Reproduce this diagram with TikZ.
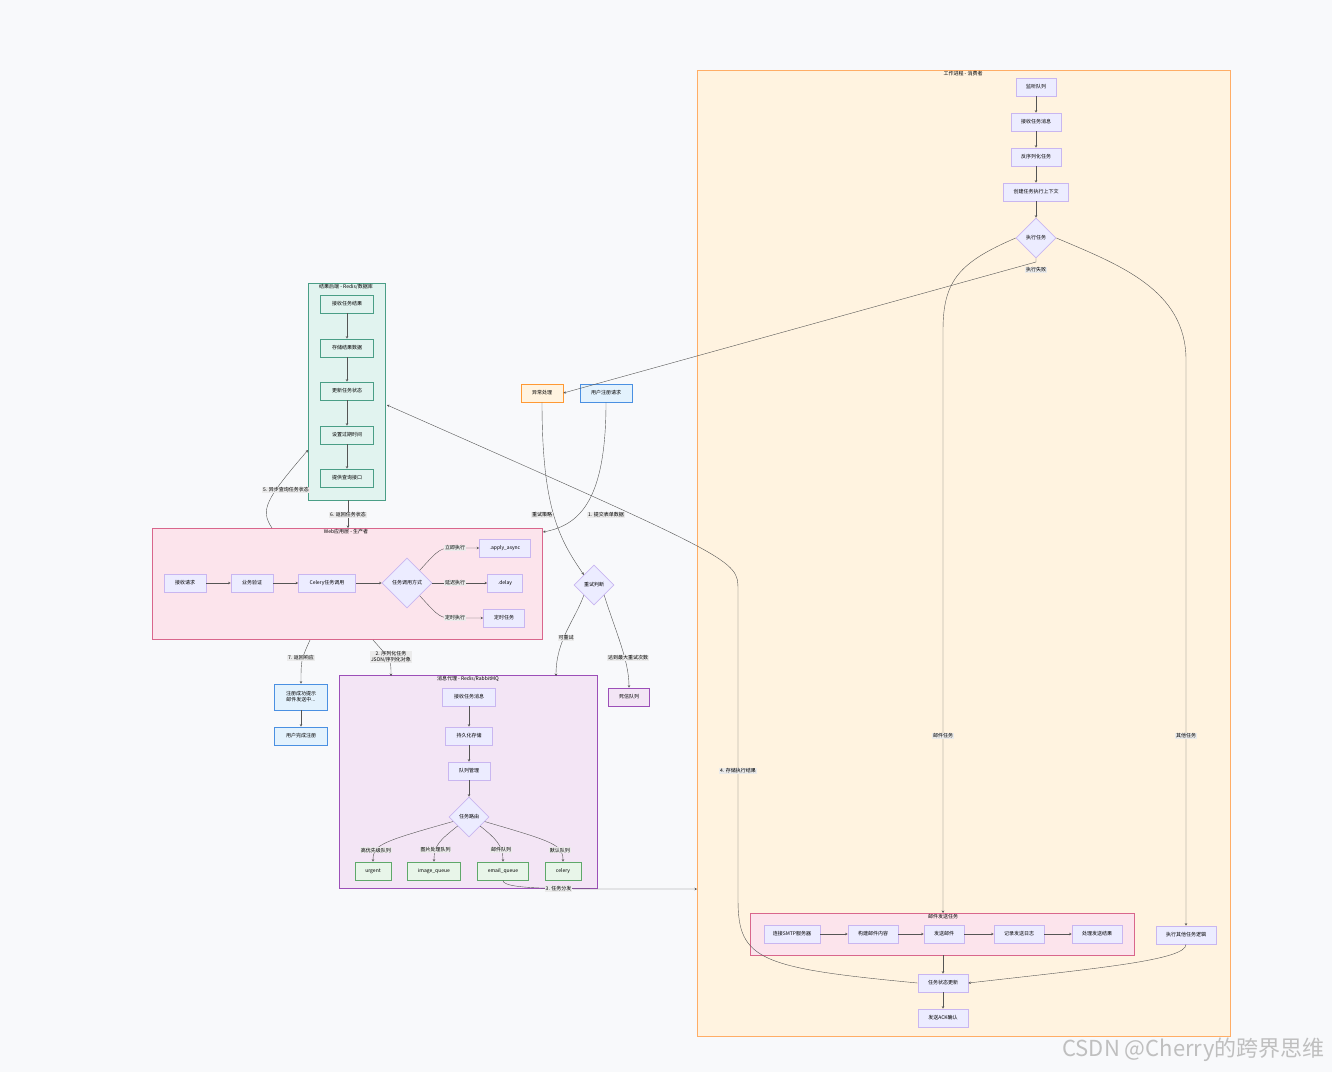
\documentclass[tikz,border=0pt]{standalone}
\usepackage{fontspec}
\setmainfont{Noto Sans CJK SC}
\usetikzlibrary{shapes.geometric,arrows.meta}
\definecolor{bg}{HTML}{F8F9FB}
\definecolor{nf}{HTML}{ECECFF}\definecolor{nd}{HTML}{C9B6F0}
\definecolor{rf}{HTML}{E1F3EF}\definecolor{rd}{HTML}{4A9E86}
\definecolor{wf}{HTML}{FCE4EC}\definecolor{wd}{HTML}{D9668C}
\definecolor{bf}{HTML}{F3E5F5}\definecolor{bd}{HTML}{9C4FB8}
\definecolor{kf}{HTML}{FFF3E0}\definecolor{kd}{HTML}{FFAD66}
\definecolor{uf}{HTML}{E3F2FD}\definecolor{ud}{HTML}{4A90E2}
\definecolor{gf}{HTML}{E8F5E9}\definecolor{gd}{HTML}{5FA86A}
\definecolor{ln}{HTML}{555555}
\begin{document}
\begin{tikzpicture}[x=1pt,y=-1pt,font=\fontsize{5}{6}\selectfont,
 n/.style={draw=nd,fill=nf,line width=0.7pt,minimum height=18pt,inner sep=1pt,align=center},
 rn/.style={n,draw=rd,fill=rf},
 un/.style={n,draw=ud,fill=uf},
 gn/.style={n,draw=gd,fill=gf},
 dm/.style={diamond,draw=nd,fill=nf,line width=0.7pt,inner sep=0pt,aspect=1},
 grp/.style={line width=0.8pt},
 e/.style={draw=ln,line width=0.4pt,-{Stealth[length=2.5pt,width=2.5pt]}},
 lb/.style={fill=black!8,inner sep=0.8pt,align=center}]
\useasboundingbox (0,0) rectangle (1332,1072);
\fill[bg] (0,0) rectangle (1332,1072);
% groups
\draw[grp,draw=kd,fill=kf] (697,70) rectangle (1230,1036);
\node at (963,74) {工作进程 - 消费者};
\draw[grp,draw=rd,fill=rf] (308,283) rectangle (385,500);
\node at (346,287) {结果后端 - Redis/数据库};
\draw[grp,draw=wd,fill=wf] (152,528) rectangle (542,639);
\node at (346,532) {Web应用层 - 生产者};
\draw[grp,draw=bd,fill=bf] (339,675) rectangle (597,888);
\node at (468,679) {消息代理 - Redis/RabbitMQ};
\draw[grp,draw=wd,fill=wf] (750,913) rectangle (1134,955);
\node at (943,917) {邮件发送任务};
\coordinate (mailtop) at (943,913);
\coordinate (mailbot) at (943,955);
\coordinate (webtop) at (348,528);
\coordinate (webtl) at (272,528);
\coordinate (webr) at (543,532);
\coordinate (webbl) at (310,640);
\coordinate (webbm) at (373,640);
\coordinate (rbl) at (308,450);
\coordinate (rbot) at (348,500);
\coordinate (rright) at (387,405);
\coordinate (brtop) at (391,676);
\coordinate (brtr) at (556,676);
\coordinate (wkl) at (697,889);
% result backend
\node[rn,minimum width=53pt] (r1) at (347,304) {接收任务结果};
\node[rn,minimum width=53pt] (r2) at (347,348) {存储结果数据};
\node[rn,minimum width=53pt] (r3) at (347,391) {更新任务状态};
\node[rn,minimum width=53pt] (r4) at (347,435) {设置过期时间};
\node[rn,minimum width=53pt] (r5) at (347,478) {提供查询接口};
\foreach \a/\b in {r1/r2,r2/r3,r3/r4,r4/r5} \draw[e] (\a)--(\b);
% web
\node[n,minimum width=42pt] (w1) at (185,583) {接收请求};
\node[n,minimum width=42pt] (w2) at (252,583) {业务验证};
\node[n,minimum width=57pt] (w3) at (327,583) {Celery任务调用};
\node[dm,minimum size=50pt] (w4) at (407,583) {任务调用方式};
\node[n,minimum width=51pt] (w5) at (505,548) {.apply\_async};
\node[n,minimum width=35pt] (w6) at (505,583) {.delay};
\node[n,minimum width=41pt] (w7) at (504,618) {定时任务};
\draw[e] (w1)--(w2); \draw[e] (w2)--(w3); \draw[e] (w3)--(w4);
\draw[e] (w4.north east) .. controls (440,548) .. (455,548) -- (w5.west);
\draw[e] (w4.east) -- (w6.west);
\draw[e] (w4.south east) .. controls (440,618) .. (455,618) -- (w7.west);
\node[lb] at (455,548) {立即执行};
\node[lb] at (455,583) {延迟执行};
\node[lb] at (455,618) {定时执行};
% misc
\node[n,draw=orange!80,fill=kf,line width=0.8pt,minimum width=42pt] (ex) at (542,393) {异常处理};
\node[un,minimum width=52pt] (ur) at (606,393) {用户注册请求};
\node[dm,minimum size=40pt] (rt) at (594,585) {重试判断};
\node[n,draw=bd,fill=bf,minimum width=41pt] (dl) at (629,697) {死信队列};
\node[un,minimum width=53pt,minimum height=26pt] (ok) at (301,697) {注册成功提示\\邮件发送中...};
\node[un,minimum width=53pt] (done) at (301,736) {用户完成注册};
% broker
\node[n,minimum width=53pt] (b1) at (469,697) {接收任务消息};
\node[n,minimum width=47pt] (b2) at (469,736) {持久化存储};
\node[n,minimum width=42pt] (b3) at (469,771) {队列管理};
\node[dm,minimum size=40pt] (b4) at (469,817) {任务路由};
\node[gn,minimum width=36pt] (q1) at (373,871) {urgent};
\node[gn,minimum width=53pt] (q2) at (434,871) {image\_queue};
\node[gn,minimum width=51pt] (q3) at (503,871) {email\_queue};
\node[gn,minimum width=36pt] (q4) at (563,871) {celery};
\draw[e] (b1)--(b2); \draw[e] (b2)--(b3); \draw[e] (b3)--(b4);
\draw[e] (b4) .. controls (380,842) and (373,845) .. (q1) node[pos=0.72,lb]{高优先级队列};
\draw[e] (b4) .. controls (440,840) and (434,845) .. (q2) node[pos=0.72,lb]{图片处理队列};
\draw[e] (b4) .. controls (495,838) and (503,845) .. (q3) node[pos=0.72,lb]{邮件队列};
\draw[e] (b4) .. controls (555,842) and (563,845) .. (q4) node[pos=0.72,lb]{默认队列};
% worker
\node[n,minimum width=40pt] (k1) at (1036,87) {监听队列};
\node[n,minimum width=50pt] (k2) at (1036,122) {接收任务消息};
\node[n,minimum width=50pt] (k3) at (1036,157) {反序列化任务};
\node[n,minimum width=65pt] (k4) at (1036,192) {创建任务执行上下文};
\node[dm,minimum size=40pt] (k5) at (1036,238) {执行任务};
\draw[e] (k1)--(k2); \draw[e] (k2)--(k3); \draw[e] (k3)--(k4); \draw[e] (k4)--(k5);
\node[n,minimum width=56pt] (m1) at (792,934) {连接SMTP服务器};
\node[n,minimum width=50pt] (m2) at (873,934) {构建邮件内容};
\node[n,minimum width=40pt] (m3) at (944,934) {发送邮件};
\node[n,minimum width=50pt] (m4) at (1019,934) {记录发送日志};
\node[n,minimum width=50pt] (m5) at (1097,934) {处理发送结果};
\foreach \a/\b in {m1/m2,m2/m3,m3/m4,m4/m5} \draw[e] (\a)--(\b);
\node[n,minimum width=60pt] (ot) at (1186,935) {执行其他任务逻辑};
\node[n,minimum width=50pt] (su) at (943,983) {任务状态更新};
\node[n,minimum width=50pt] (ack) at (943,1018) {发送ACK确认};
\draw[e] (su)--(ack);
\draw[e] (mailbot)--(su);
\draw[e] (ot.south) .. controls (1186,960) and (1100,968) .. (su.east);
\draw[e] (k5.west) .. controls (960,262) and (943,280) .. (943,330) -- (mailtop);
\node[lb] at (943,736) {邮件任务};
\draw[e] (k5.east) .. controls (1120,265) and (1186,290) .. (1186,360) -- (ot.north);
\node[lb] at (1186,736) {其他任务};
\draw[e] (k5.south) -- (1036,262) -- (ex.east);
\node[lb] at (1036,270) {执行失败};
\draw[e] (su.west) .. controls (760,968) and (738,960) .. (738,900) -- (738,590) .. controls (738,560) .. (rright);
\node[lb] at (738,771) {4. 存储执行结果};
\draw[e] (q3.south) .. controls (503,890) and (560,889) .. (wkl) node[pos=0.55,lb]{3. 任务分发};
% cross edges
\draw[e] (ur.south) .. controls (606,500) and (580,525) .. (webr);
\node[lb] at (606,515) {1. 提交表单数据};
\draw[e] (ex.south) .. controls (542,510) and (560,540) .. (rt.north west);
\node[lb] at (542,515) {重试策略};
\draw[e] (rt.south west) .. controls (575,620) and (556,640) .. (brtr);
\node[lb] at (566,638) {可重试};
\draw[e] (rt.south east) .. controls (615,630) and (629,660) .. (dl.north);
\node[lb] at (628,658) {达到最大重试次数};
\draw[e] (webtl) .. controls (260,510) and (265,500) .. (rbl);
\node[lb] at (286,490) {5. 异步查询任务状态};
\draw[e] (rbot) -- (webtop);
\node[lb] at (348,515) {6. 返回任务状态};
\draw[e] (webbl) .. controls (301,660) .. (ok.north);
\node[lb] at (301,658) {7. 返回响应};
\draw[e] (ok)--(done);
\draw[e] (webbm) .. controls (391,660) .. (brtop);
\node[lb] at (391,657) {2. 序列化任务\\JSON/序列化对象};
\node[text=black!25,font=\fontsize{22}{24}\selectfont,anchor=east] at (1328,1050) {CSDN @Cherry的跨界思维};
\end{tikzpicture}
\end{document}
